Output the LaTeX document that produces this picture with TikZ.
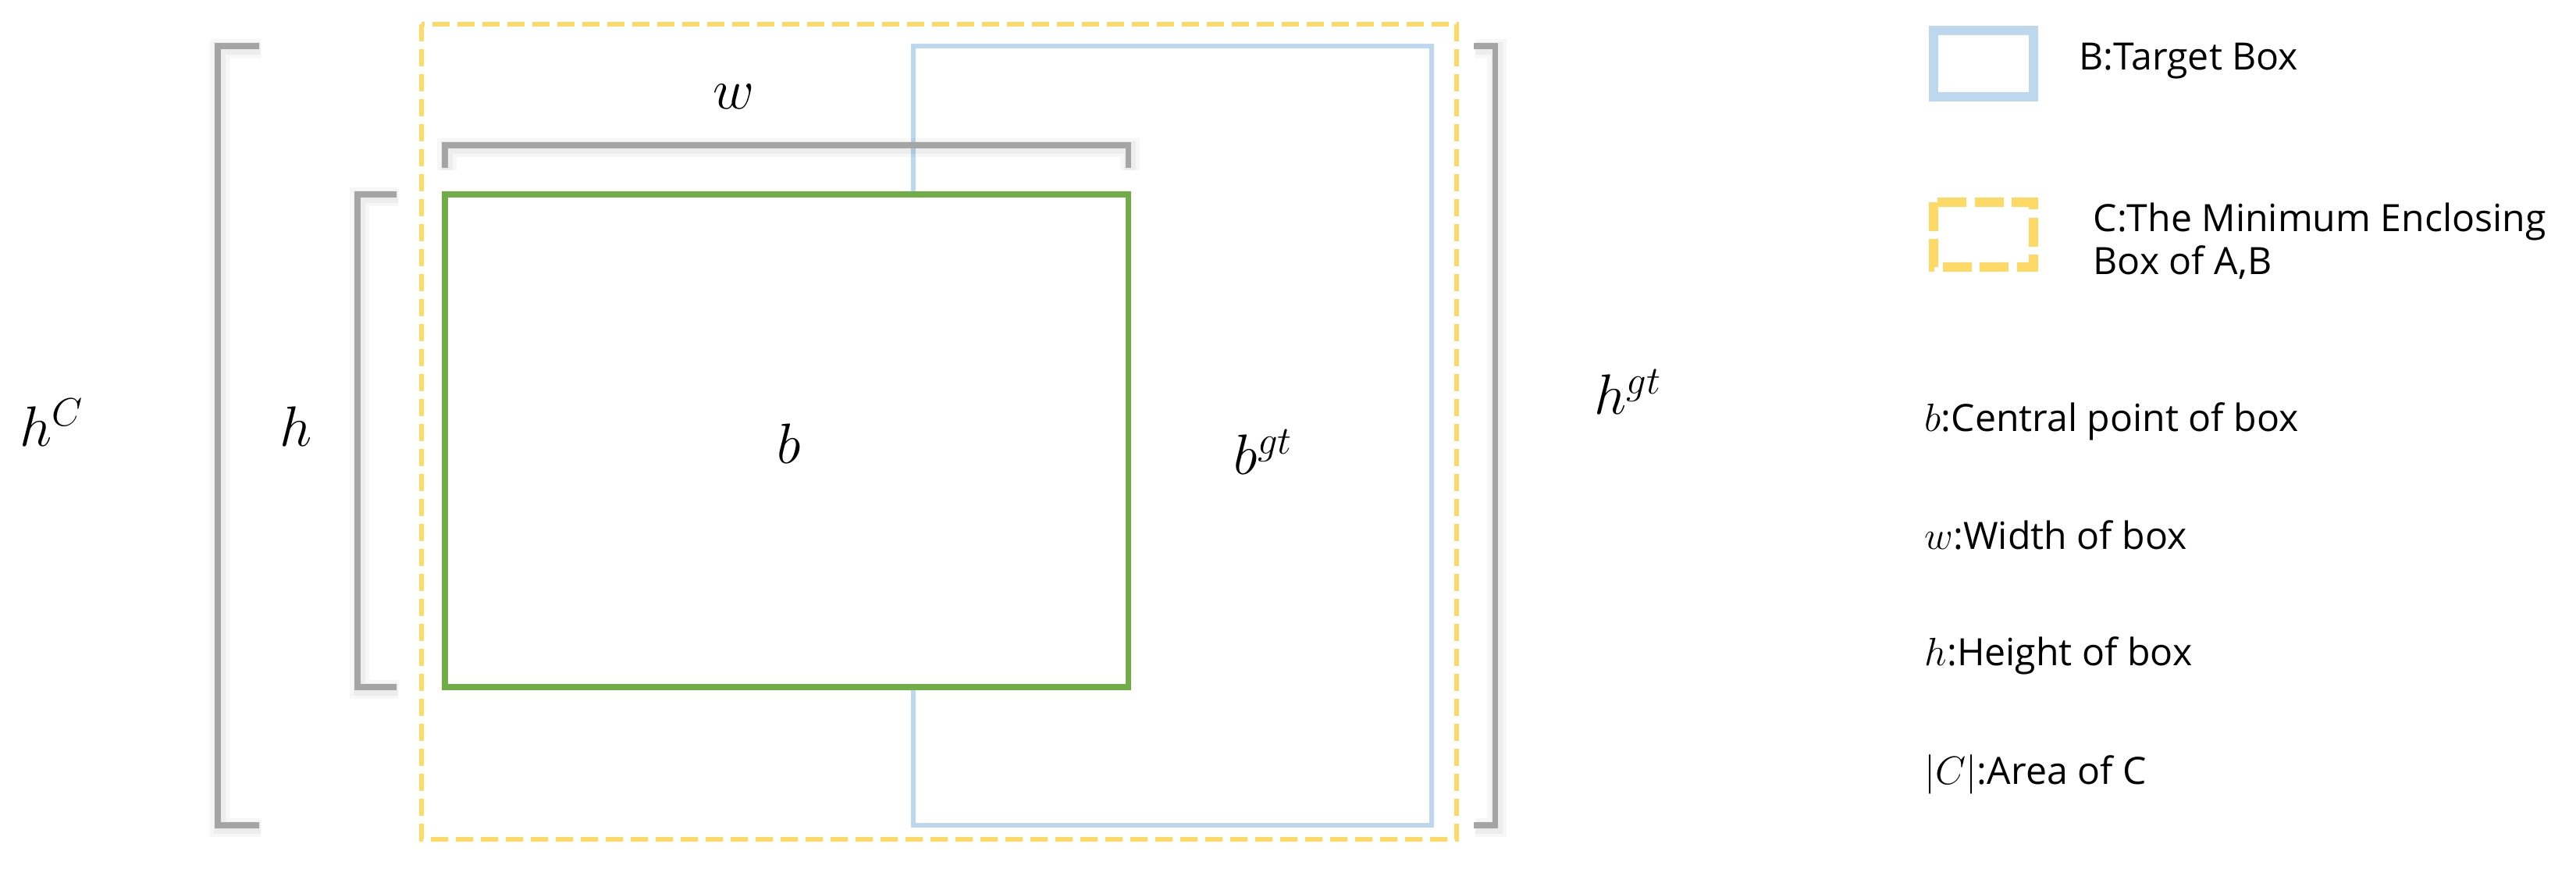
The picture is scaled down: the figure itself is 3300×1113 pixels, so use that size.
\documentclass[tikz,border=0pt]{standalone}
\usepackage{fontspec}
\setmainfont{Open Sans}
\definecolor{brk}{HTML}{A5A5A5}
\definecolor{gbox}{HTML}{70AD47}
\definecolor{bbox}{HTML}{BDD7EE}
\definecolor{ybox}{HTML}{FFD966}
\newcommand{\lm}[1]{{\fontsize{15.5}{18}\selectfont$#1$}}
\begin{document}
\begin{tikzpicture}[x=0.01cm,y=-0.01cm,
  bracket/.style={draw=brk, line width=2pt, line join=miter,
    preaction={draw=black, draw opacity=0.03, line width=7pt, transform canvas={xshift=0.7pt,yshift=-0.9pt}},
    preaction={draw=black, draw opacity=0.04, line width=4.5pt, transform canvas={xshift=0.7pt,yshift=-0.9pt}}},
  greenbox/.style={draw=gbox, fill=white, line width=2pt, line join=miter},
  bluebox/.style={draw=bbox, line width=1.7pt, line join=miter},
  yellowbox/.style={draw=ybox, line width=1.7pt, dash pattern=on 6.3pt off 2.8pt},
  legblue/.style={draw=bbox, line width=3.4pt, line join=miter},
  legyellow/.style={draw=ybox, line width=3.4pt, dash pattern=on 10.5pt off 3pt},
  mlabel/.style={inner sep=0pt, anchor=base west, font=\fontsize{21.5}{25}\selectfont},
  ltext/.style={inner sep=0pt, anchor=base west, font=\fontsize{13.7}{16.4}\selectfont, align=left}]
\useasboundingbox (0,0) rectangle (3300,1113);
\fill[white] (0,0) rectangle (3300,1113);

% boxes
\coordinate (C1) at (540,31);   \coordinate (C2) at (1866,1075);
\coordinate (B1) at (1170,59);  \coordinate (B2) at (1834,1057);
\coordinate (A1) at (570,249);  \coordinate (A2) at (1445,880);
\draw[yellowbox] (C1) rectangle (C2);
\draw[bluebox] (B1) rectangle (B2);
\draw[greenbox] (A1) rectangle (A2);

% brackets
\draw[bracket] (570,215) -- (570,186) -- (1445,186) -- (1445,215);
\draw[bracket] (508,249) -- (458,249) -- (458,880) -- (508,880);
\draw[bracket] (332,59) -- (279,59) -- (279,1057) -- (332,1057);
\draw[bracket] (1888,59) -- (1915,59) -- (1915,1057) -- (1888,1057);

% labels
\node[mlabel] (lhc) at (25,572) {$h^{C}$};
\node[mlabel] (lh) at (358,572) {$h$};
\node[mlabel] (lw) at (913,140) {$w$};
\node[mlabel] (lb) at (995,594) {$b$};
\node[mlabel] (lbgt) at (1580,608) {$b^{gt}$};
\node[mlabel] (lhgt) at (2042,531) {$h^{gt}$};

% legend
\draw[legblue] (2477,39) rectangle (2605,124);
\draw[legyellow] (2477,259) rectangle (2605,342);
\node[ltext] (tb) at (2663,90) {B:Target Box};
\node[ltext] (tc) at (2681,297) {C:The Minimum Enclosing};
\node[ltext] (tc2) at (2681,352) {Box of A,B};
\node[ltext] (t1) at (2465,553) {\lm{b}:Central point of box};
\node[ltext] (t2) at (2465,703) {\lm{w}:Width of box};
\node[ltext] (t3) at (2465,852) {\lm{h}:Height of box};
\node[ltext] (t4) at (2465,1004) {\lm{|C|}:Area of C};
\end{tikzpicture}
\end{document}
